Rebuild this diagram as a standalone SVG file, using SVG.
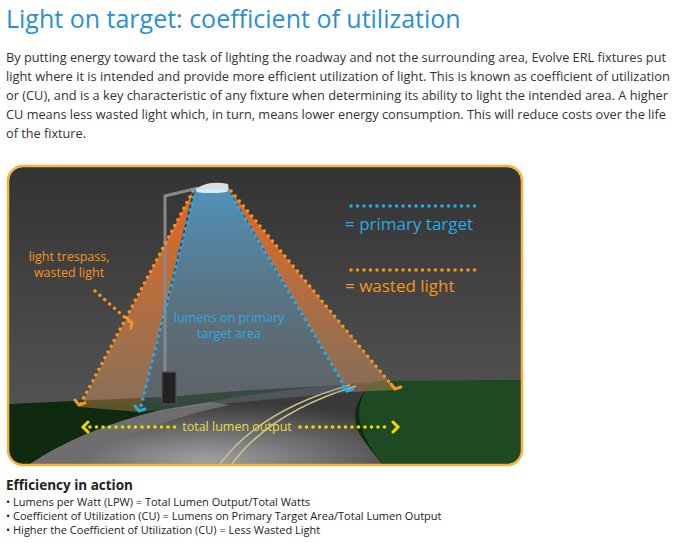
<svg xmlns="http://www.w3.org/2000/svg" width="678" height="543" viewBox="0 0 678 543">
<style>
.t{font-family:"Open Sans","Liberation Sans",sans-serif}
.ob{fill:none;stroke:#f7941d;stroke-width:3.6;stroke-dasharray:0 6.5;stroke-linecap:round}
.bb{fill:none;stroke:#29abe2;stroke-width:3.6;stroke-dasharray:0 6.5;stroke-linecap:round}
.yb{fill:none;stroke:#f2d600;stroke-width:3.6;stroke-dasharray:0 6.5;stroke-linecap:round}
</style>
<defs>
<linearGradient id="sky" x1="0" y1="0" x2="0" y2="1"><stop offset="0" stop-color="#333"/><stop offset="1" stop-color="#5a5a5a"/></linearGradient>
<linearGradient id="or" x1="0" y1="0" x2="0" y2="1"><stop offset="0" stop-color="#e8641e"/><stop offset="1" stop-color="#e8a060" stop-opacity="0.35"/></linearGradient>
<linearGradient id="bl" x1="0" y1="0" x2="0" y2="1"><stop offset="0" stop-color="#4f93b8"/><stop offset="1" stop-color="#7a8590" stop-opacity="0.3"/></linearGradient>
<radialGradient id="rd" cx="0.5" cy="0.95" r="0.7"><stop offset="0" stop-color="#a0a0a0"/><stop offset="1" stop-color="#3a3a3a"/></radialGradient>
<clipPath id="c"><rect x="9" y="167" width="512" height="297" rx="14"/></clipPath>
</defs>
<text class="t" x="6" y="28" font-size="25" fill="#2b8fd6">Light on target: coefficient of utilization</text>
<g class="t" font-size="13" fill="#333" lengthAdjust="spacingAndGlyphs">
<text x="6" y="62" textLength="660" lengthAdjust="spacingAndGlyphs">By putting energy toward the task of lighting the roadway and not the surrounding area, Evolve ERL fixtures put</text>
<text x="6" y="81" textLength="664" lengthAdjust="spacingAndGlyphs">light where it is intended and provide more efficient utilization of light. This is known as coefficient of utilization</text>
<text x="6" y="100" textLength="662" lengthAdjust="spacingAndGlyphs">or (CU), and is a key characteristic of any fixture when determining its ability to light the intended area. A higher</text>
<text x="6" y="119" textLength="660" lengthAdjust="spacingAndGlyphs">CU means less wasted light which, in turn, means lower energy consumption. This will reduce costs over the life</text>
<text x="6" y="138" textLength="80" lengthAdjust="spacingAndGlyphs">of the fixture.</text>
</g>
<g clip-path="url(#c)">
<rect x="9" y="167" width="512" height="297" fill="url(#sky)"/>
<path d="M9 404 L180 396 Q300 384 521 380 L521 464 L9 464 Z" fill="#0f2a0f"/>
<path d="M30 464 Q110 420 230 398 Q310 386 375 382 Q345 405 360 435 Q372 452 382 464 Z" fill="url(#rd)"/>
<path d="M30 464 Q80 430 160 410 L210 402 L230 405 Q150 420 75 464 Z" fill="#6e6e6e"/>
<path d="M220 464 Q260 410 350 385" fill="none" stroke="#c9c48a" stroke-width="1.5"/>
<path d="M232 464 Q270 412 356 386" fill="none" stroke="#c9c48a" stroke-width="1.5"/>
<path d="M375 381 Q340 410 382 464 L521 464 L521 380 Z" fill="#1d4a22"/>
<polygon points="193,191 80,407 140,412" fill="url(#or)"/>
<polygon points="230,191 348,392 396,390" fill="url(#or)"/>
<polygon points="195,191 229,191 348,392 140,412" fill="url(#bl)"/>
<path d="M165 404 L165 196 L198 188" fill="none" stroke="#888" stroke-width="3"/>
<rect x="162" y="372" width="14" height="32" fill="#222" stroke="#555"/>
<path d="M197 188 Q210 180 228 184 L229 191 L193 191 Z" fill="#ddd"/>
<ellipse cx="211" cy="191" rx="17" ry="2" fill="#cfefff"/>
</g>
<rect x="8" y="166" width="514" height="299" rx="15" fill="none" stroke="#f8b13a" stroke-width="2.5"/>
<g id="connectors">
<path class="ob" d="M193 191 L80 405"/>
<path class="bb" d="M195 191 L140 410"/>
<path class="bb" d="M229 191 L347 390"/>
<path class="ob" d="M231 191 L394 388"/>
<path class="ob" d="M95 291 L130 322"/>
<path class="yb" d="M90 427 L175 427 M300 427 L385 427"/>
<g fill="none" stroke-width="3" stroke-linecap="round">
<path d="M75 400 l4 5 l6 -2" stroke="#f7941d"/>
<path d="M135 406 l4 5 l6 -2" stroke="#29abe2"/>
<path d="M343 386 l4 5 l6 -2" stroke="#29abe2"/>
<path d="M391 384 l4 5 l6 -2" stroke="#f7941d"/>
<path d="M127 318 l5 5 l-1 5" stroke="#f7941d"/>
<path d="M88 422 l-5 5 l5 5 M393 422 l5 5 l-5 5" stroke="#f2d600"/>
</g>
</g>
<g id="legend" class="t">
<path class="bb" d="M351 206 L477 206"/>
<text x="345" y="230" font-size="17" fill="#29abe2">= primary target</text>
<path class="ob" d="M351 270 L477 270"/>
<text x="345" y="292" font-size="17" fill="#f7941d">= wasted light</text>
</g>
<g id="labels" class="t" text-anchor="middle">
<text x="69" y="261" font-size="12.5" fill="#f7941d">light trespass,</text>
<text x="69" y="277" font-size="12.5" fill="#f7941d">wasted light</text>
<text x="229" y="322" font-size="12.5" fill="#29abe2">lumens on primary</text>
<text x="229" y="338" font-size="12.5" fill="#29abe2">target area</text>
<text x="237" y="431" font-size="12.5" fill="#e6dc3c">total lumen output</text>
</g>
<g class="t" fill="#222">
<text x="6" y="490" font-size="13.5" font-weight="bold">Efficiency in action</text>
<text x="6" y="506" font-size="11">• Lumens per Watt (LPW) = Total Lumen Output/Total Watts</text>
<text x="6" y="520" font-size="11">• Coefficient of Utilization (CU) = Lumens on Primary Target Area/Total Lumen Output</text>
<text x="6" y="534" font-size="11">• Higher the Coefficient of Utilization (CU) = Less Wasted Light</text>
</g>
</svg>
